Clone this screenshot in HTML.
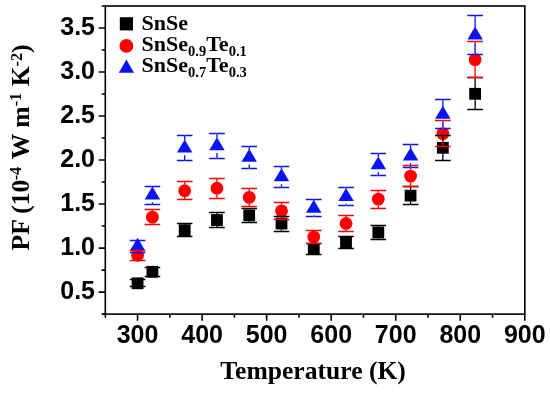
<!DOCTYPE html>
<html><head><meta charset="utf-8"><title>PF vs Temperature</title>
<style>html,body{margin:0;padding:0;background:#fff;}svg{display:block;filter:blur(0.3px);}</style></head>
<body><svg width="550" height="393" viewBox="0 0 550 393">
<rect width="550" height="393" fill="#fff"/>
<g stroke="#000" stroke-width="1.6" fill="none" shape-rendering="auto">
<rect x="105.3" y="6" width="419.51" height="308.11"/>
<path d="M101.7 314.1H105.3M98.7 292.09H105.3M101.7 270.09H105.3M98.7 248.08H105.3M101.7 226.07H105.3M98.7 204.06H105.3M101.7 182.06H105.3M98.7 160.05H105.3M101.7 138.04H105.3M98.7 116.03H105.3M101.7 94.03H105.3M98.7 72.02H105.3M101.7 50.01H105.3M98.7 28H105.3M101.7 6H105.3M105.3 314.1V317.7M137.57 314.1V320.7M169.84 314.1V317.7M202.11 314.1V320.7M234.38 314.1V317.7M266.65 314.1V320.7M298.92 314.1V317.7M331.19 314.1V320.7M363.46 314.1V317.7M395.73 314.1V320.7M428 314.1V317.7M460.27 314.1V320.7M492.54 314.1V317.7M524.81 314.1V320.7"/>
</g>
<rect x="131.67" y="277.4" width="11.8" height="11.8" fill="#000"/>
<rect x="146.51" y="265.9" width="11.8" height="11.8" fill="#000"/>
<rect x="178.78" y="224.3" width="11.8" height="11.8" fill="#000"/>
<rect x="211.05" y="214.15" width="11.8" height="11.8" fill="#000"/>
<rect x="243.32" y="209.45" width="11.8" height="11.8" fill="#000"/>
<rect x="275.59" y="217.65" width="11.8" height="11.8" fill="#000"/>
<rect x="307.86" y="243" width="11.8" height="11.8" fill="#000"/>
<rect x="340.13" y="236.2" width="11.8" height="11.8" fill="#000"/>
<rect x="372.4" y="226.6" width="11.8" height="11.8" fill="#000"/>
<rect x="404.67" y="189.75" width="11.8" height="11.8" fill="#000"/>
<rect x="436.94" y="141.9" width="11.8" height="11.8" fill="#000"/>
<rect x="469.21" y="87.9" width="11.8" height="11.8" fill="#000"/>
<circle cx="137.57" cy="255.3" r="6.4" fill="#ff0000"/>
<circle cx="152.41" cy="217.15" r="6.4" fill="#ff0000"/>
<circle cx="184.68" cy="190.75" r="6.4" fill="#ff0000"/>
<circle cx="216.95" cy="188.25" r="6.4" fill="#ff0000"/>
<circle cx="249.22" cy="197.35" r="6.4" fill="#ff0000"/>
<circle cx="281.49" cy="210.9" r="6.4" fill="#ff0000"/>
<circle cx="313.76" cy="237" r="6.4" fill="#ff0000"/>
<circle cx="346.03" cy="223.45" r="6.4" fill="#ff0000"/>
<circle cx="378.3" cy="199.1" r="6.4" fill="#ff0000"/>
<circle cx="410.57" cy="176.1" r="6.4" fill="#ff0000"/>
<circle cx="442.84" cy="133.65" r="6.4" fill="#ff0000"/>
<circle cx="475.11" cy="59.65" r="6.4" fill="#ff0000"/>
<path d="M137.57 237.7L145.27 250.7L129.87 250.7Z" fill="#0a14f0"/>
<path d="M152.41 186.5L160.11 199.5L144.71 199.5Z" fill="#0a14f0"/>
<path d="M184.68 139.4L192.38 152.4L176.98 152.4Z" fill="#0a14f0"/>
<path d="M216.95 137.25L224.65 150.25L209.25 150.25Z" fill="#0a14f0"/>
<path d="M249.22 148.8L256.92 161.8L241.52 161.8Z" fill="#0a14f0"/>
<path d="M281.49 168.35L289.19 181.35L273.79 181.35Z" fill="#0a14f0"/>
<path d="M313.76 199.65L321.46 212.65L306.06 212.65Z" fill="#0a14f0"/>
<path d="M346.03 187.95L353.73 200.95L338.33 200.95Z" fill="#0a14f0"/>
<path d="M378.3 156.15L386 169.15L370.6 169.15Z" fill="#0a14f0"/>
<path d="M410.57 147.55L418.27 160.55L402.87 160.55Z" fill="#0a14f0"/>
<path d="M442.84 105.65L450.54 118.65L435.14 118.65Z" fill="#0a14f0"/>
<path d="M475.11 26.5L482.81 39.5L467.41 39.5Z" fill="#0a14f0"/>
<path d="M129.77 279.5H145.37M129.77 286.5H145.37M144.61 267.5H160.21M144.61 276.5H160.21M176.88 223.5H192.48M176.88 236.5H192.48M209.15 212.5H224.75M209.15 227.5H224.75M241.42 208.5H257.02M241.42 222.5H257.02M273.69 216.5H289.29M273.69 231.5H289.29M305.96 243.5H321.56M305.96 254.5H321.56M338.23 236.5H353.83M338.23 248.5H353.83M370.5 225.5H386.1M370.5 239.5H386.1M402.77 186.5H418.37M402.77 204.5H418.37M435.04 135.5H450.64M435.04 160.5H450.64M467.31 77.5H482.91M467.31 109.5H482.91" stroke="#000" stroke-width="1.6" fill="none"/><path d="M184.68 223.6V224.4M184.68 236V236.8M216.95 212.7V214.25M216.95 225.85V227.4M249.22 208.1V209.55M249.22 221.15V222.6M281.49 216V217.75M281.49 229.35V231.1M346.03 236V236.3M346.03 247.9V248.2M378.3 225.3V226.7M378.3 238.3V239.7M410.57 186.5V189.85M410.57 201.45V204.8M442.84 135.4V142M442.84 153.6V160.2M475.11 77.8V88M475.11 99.6V109.8" stroke="#000" stroke-width="1.3" fill="none"/>
<path d="M129.77 250.5H145.37M129.77 260.5H145.37M144.61 209.5H160.21M144.61 224.5H160.21M176.88 181.5H192.48M176.88 199.5H192.48M209.15 178.5H224.75M209.15 198.5H224.75M241.42 188.5H257.02M241.42 206.5H257.02M273.69 202.5H289.29M273.69 219.5H289.29M305.96 230.5H321.56M305.96 243.5H321.56M338.23 215.5H353.83M338.23 231.5H353.83M370.5 190.5H386.1M370.5 208.5H386.1M402.77 165.5H418.37M402.77 186.5H418.37M435.04 120.5H450.64M435.04 146.5H450.64M467.31 41.5H482.91M467.31 77.5H482.91" stroke="#ff0000" stroke-width="1.6" fill="none"/><path d="M152.41 209.5V210.85M152.41 223.45V224.8M184.68 181.6V184.45M184.68 197.05V199.9M216.95 178.4V181.95M216.95 194.55V198.1M249.22 188V191.05M249.22 203.65V206.7M281.49 202.7V204.6M281.49 217.2V219.1M313.76 230.5V230.7M313.76 243.3V243.5M346.03 215.7V217.15M346.03 229.75V231.2M378.3 190V192.8M378.3 205.4V208.2M410.57 165.7V169.8M410.57 182.4V186.5M442.84 120.7V127.35M442.84 139.95V146.6M475.11 41.6V53.35M475.11 65.95V77.7" stroke="#ff0000" stroke-width="1.3" fill="none"/>
<path d="M129.77 240.5H145.37M129.77 252.5H145.37M144.61 186.5H160.21M144.61 204.5H160.21M176.88 135.5H192.48M176.88 160.5H192.48M209.15 133.5H224.75M209.15 158.5H224.75M241.42 146.5H257.02M241.42 168.5H257.02M273.69 166.5H289.29M273.69 187.5H289.29M305.96 199.5H321.56M305.96 216.5H321.56M338.23 187.5H353.83M338.23 205.5H353.83M370.5 153.5H386.1M370.5 175.5H386.1M402.77 144.5H418.37M402.77 167.5H418.37M435.04 99.5H450.64M435.04 128.5H450.64M467.31 15.5H482.91M467.31 54.5H482.91" stroke="#0a14f0" stroke-width="1.6" fill="none"/><path d="M152.41 186V187.9M152.41 202.3V204.2M184.68 135.7V140.8M184.68 155.2V160.3M216.95 133.4V138.65M216.95 153.05V158.3M249.22 146V150.2M249.22 164.6V168.8M281.49 166.6V169.75M281.49 184.15V187.3M313.76 199.8V201.05M313.76 215.45V216.7M346.03 187.6V189.35M346.03 203.75V205.5M378.3 153.6V157.55M378.3 171.95V175.9M410.57 144.5V148.95M410.57 163.35V167.8M442.84 99.8V107.05M442.84 121.45V128.7M475.11 15.7V27.9M475.11 42.3V54.5" stroke="#fff" stroke-width="1.3" fill="none"/><path d="M152.41 186V187.9M152.41 202.3V204.2M184.68 135.7V140.8M184.68 155.2V160.3M216.95 133.4V138.65M216.95 153.05V158.3M249.22 146V150.2M249.22 164.6V168.8M281.49 166.6V169.75M281.49 184.15V187.3M313.76 199.8V201.05M313.76 215.45V216.7M346.03 187.6V189.35M346.03 203.75V205.5M378.3 153.6V157.55M378.3 171.95V175.9M410.57 144.5V148.95M410.57 163.35V167.8M442.84 99.8V107.05M442.84 121.45V128.7M475.11 15.7V27.9M475.11 42.3V54.5" stroke="#0a14f0" stroke-width="1.3" fill="none"/>
<g font-family="Liberation Sans, Arial, sans-serif" font-weight="bold" font-size="25" fill="#000"><text x="95" y="299.39" text-anchor="end">0.5</text><text x="95" y="255.38" text-anchor="end">1.0</text><text x="95" y="211.36" text-anchor="end">1.5</text><text x="95" y="167.35" text-anchor="end">2.0</text><text x="95" y="123.33" text-anchor="end">2.5</text><text x="95" y="79.32" text-anchor="end">3.0</text><text x="95" y="35.3" text-anchor="end">3.5</text><text x="137.57" y="343" text-anchor="middle">300</text><text x="202.11" y="343" text-anchor="middle">400</text><text x="266.65" y="343" text-anchor="middle">500</text><text x="331.19" y="343" text-anchor="middle">600</text><text x="395.73" y="343" text-anchor="middle">700</text><text x="460.27" y="343" text-anchor="middle">800</text><text x="524.81" y="343" text-anchor="middle">900</text></g>
<text font-family="Liberation Serif, Times New Roman, serif" font-weight="bold" font-size="25.6" x="313.1" y="379" text-anchor="middle">Temperature (K)</text>
<text font-family="Liberation Serif, Times New Roman, serif" font-weight="bold" font-size="25.6" transform="rotate(-90)" y="29"><tspan x="-250.5">PF (10</tspan><tspan x="-180.3" font-size="16.3" dy="-8">-4</tspan><tspan x="-159.2" dy="8">W m</tspan><tspan font-size="16.3" dy="-8">-1</tspan><tspan dy="8"> K</tspan><tspan font-size="16.3" dy="-7.5">-2</tspan><tspan dy="7.5">)</tspan></text>
<rect x="119.8" y="17.2" width="13.2" height="13.2" fill="#000"/>
<circle cx="126.4" cy="45.9" r="6.9" fill="#ff0000"/>
<path d="M126.4 59.5L134.02 72.7L118.78 72.7Z" fill="#0a14f0"/>
<text font-family="Liberation Serif, Times New Roman, serif" font-weight="bold" font-size="22" x="141.6" y="30.2">SnSe</text>
<text font-family="Liberation Serif, Times New Roman, serif" font-weight="bold" font-size="22" x="141.6" y="51.2">SnSe<tspan font-size="14.5" dy="5">0.9</tspan><tspan dy="-5">Te</tspan><tspan font-size="14.5" dy="5">0.1</tspan></text>
<text font-family="Liberation Serif, Times New Roman, serif" font-weight="bold" font-size="22" x="141.6" y="72.2">SnSe<tspan font-size="14.5" dy="5">0.7</tspan><tspan dy="-5">Te</tspan><tspan font-size="14.5" dy="5">0.3</tspan></text>
</svg></body></html>
